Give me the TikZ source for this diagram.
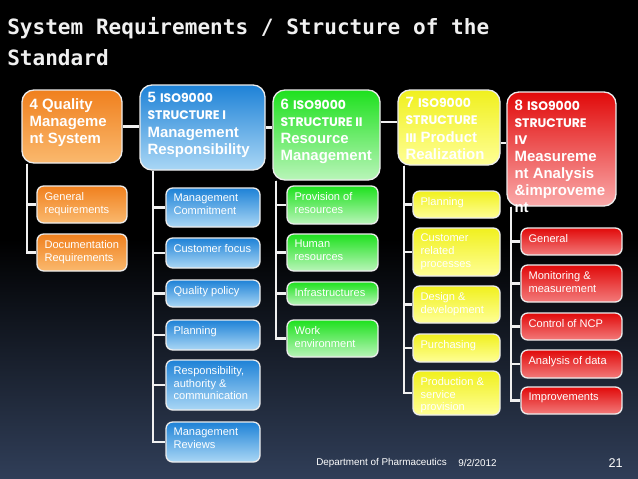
\documentclass[tikz,border=0pt]{standalone}
\usepackage{fontspec}
\setmainfont{Liberation Sans}
\newfontfamily\titlefont{DejaVu Sans Mono}
\newfontfamily\isofont{Poppins}
\definecolor{bgbot}{RGB}{48,62,88}
\definecolor{oT}{RGB}{240,128,30}\definecolor{oB}{RGB}{250,185,110}
\definecolor{bT}{RGB}{30,130,215}\definecolor{bB}{RGB}{170,215,245}
\definecolor{gT}{RGB}{30,225,30}\definecolor{gB}{RGB}{185,245,185}
\definecolor{yT}{RGB}{240,240,30}\definecolor{yB}{RGB}{255,255,150}
\definecolor{rT}{RGB}{225,10,10}\definecolor{rB}{RGB}{250,170,170}
\tikzset{
 box/.style={draw=white!85!gray,line width=1pt,rounded corners=5pt,inner sep=0pt},
 hbox/.style={box,rounded corners=9pt},
 org/.style={top color=oT,bottom color=oB},
 blu/.style={top color=bT,bottom color=bB},
 grn/.style={top color=gT,bottom color=gB},
 yel/.style={top color=yT,bottom color=yB},
 red/.style={top color=rT,bottom color=rB!70!rT},
 redh/.style={top color=rT,bottom color=rB},
 txt/.style={text=white,align=left,inner sep=0pt,font=\fontsize{8.3pt}{9.6pt}\selectfont},
 htxt/.style={text=white,align=left,inner sep=0pt,font=\fontsize{11.2pt}{12.8pt}\selectfont\bfseries},
 conn/.style={draw=white!88!gray,line width=1.6pt},
}
\newcommand\mybox[8]{%
 \node[#2,#8,minimum width={(#5-#3)*0.75pt},minimum height={(#6-#4)*0.75pt}] (#1) at ({(#3+#5)/2},{(#4+#6)/2}) {};
 \node[txt,anchor=north west] (#1t) at ([xshift=6pt,yshift=-5pt]#1.north west) {#7};}
\newcommand\myhead[8]{%
 \node[hbox,#8,minimum width={(#5-#3)*0.75pt},minimum height={(#6-#4)*0.75pt}] (#1) at ({(#3+#5)/2},{(#4+#6)/2}) {};
 \node[htxt,anchor=north west] (#1t) at ([xshift=6pt,yshift=-#2pt]#1.north west) {#7};}
\newcommand\iso[1]{{\isofont\bfseries\fontsize{9.3pt}{12.8pt}\selectfont #1}}
\begin{document}
\begin{tikzpicture}[x=0.75pt,y=-0.75pt]
\fill[black] (0,0) rectangle (638,240);
\shade[top color=black,bottom color=bgbot] (0,239) rectangle (638,478);
\useasboundingbox (0,0) rectangle (638,478);
\node[anchor=west,text=white!88!gray,font=\titlefont\bfseries\fontsize{15.8pt}{18pt}\selectfont,align=left,inner sep=0pt] (title) at (7,28) {System Requirements / Structure of the};
\node[anchor=west,text=white!88!gray,font=\titlefont\bfseries\fontsize{15.8pt}{18pt}\selectfont,align=left,inner sep=0pt] (title2) at (7,58) {Standard};
% headers
\myhead{h4}{7}{22}{90}{122}{163}{4 Quality\\Manageme\\nt System}{org}
\myhead{h5}{6}{140}{85}{265}{170}{5 \iso{ISO9000}\\\iso{STRUCTURE I}\\Management\\Responsibility}{blu}
\myhead{h6}{7}{273}{90}{380}{180}{6 \iso{ISO9000}\\\iso{STRUCTURE II}\\Resource\\Management}{grn}
\myhead{h7}{6}{398}{90}{500}{165}{7 \iso{ISO9000}\\\iso{STRUCTURE}\\\iso{III} Product\\Realization}{yel}
\myhead{h8}{6}{507}{92}{616}{206}{8 \iso{ISO9000}\\\iso{STRUCTURE}\\\iso{IV}\\Measureme\\nt Analysis\\\&improveme\\nt}{redh}
% children
\mybox{a1}{box}{37}{186}{127}{223}{General\\requirements}{org}
\mybox{a2}{box}{37}{234}{127}{271}{Documentation\\Requirements}{org}
\mybox{b1}{box}{166}{188}{260}{227}{Management\\Commitment}{blu}
\mybox{b2}{box}{166}{238}{260}{268}{Customer focus}{blu}
\mybox{b3}{box}{166}{280}{260}{307}{Quality policy}{blu}
\mybox{b4}{box}{166}{320}{260}{350}{Planning}{blu}
\mybox{b5}{box}{166}{360}{260}{410}{Responsibility,\\authority \&\\communication}{blu}
\mybox{b6}{box}{166}{422}{260}{462}{Management\\Reviews}{blu}
\mybox{c1}{box}{287}{186}{378}{224}{Provision of\\resources}{grn}
\mybox{c2}{box}{287}{234}{378}{271}{Human\\resources}{grn}
\mybox{c3}{box}{287}{282}{378}{305}{Infrastructures}{grn}
\mybox{c4}{box}{287}{320}{378}{357}{Work\\environment}{grn}
\mybox{d1}{box}{413}{191}{500}{218}{Planning}{yel}
\mybox{d2}{box}{413}{228}{500}{276}{Customer\\related\\processes}{yel}
\mybox{d3}{box}{413}{286}{500}{323}{Design \&\\development}{yel}
\mybox{d4}{box}{413}{334}{500}{362}{Purchasing}{yel}
\mybox{d5}{box}{413}{371}{500}{415}{Production \&\\service\\provision}{yel}
\mybox{e1}{box}{521}{228}{622}{255}{General}{red}
\mybox{e2}{box}{521}{265}{622}{302}{Monitoring \&\\measurement}{red}
\mybox{e3}{box}{521}{313}{622}{340}{Control of NCP}{red}
\mybox{e4}{box}{521}{350}{622}{378}{Analysis of data}{red}
\mybox{e5}{box}{521}{387}{622}{414}{Improvements}{red}
% header links
\draw[conn] (h4.east) -- (h4.east -| h5.west);
\draw[conn] (h5.east) -- (h5.east -| h6.west);
\path (h7.west |- h7.north) ++(0,33) coordinate (l7);
\draw[conn] (l7 -| h6.east) -- (l7);
\path (h8.west) ++(0,-6) coordinate (l8);
\draw[conn] (l8 -| h7.east) -- (l8);
% trees
\foreach \c in {a1,a2}{\draw[conn] ([xshift=4.5pt]h4.south west) |- (\c.west);}
\foreach \c in {b1,b2,b3,b4,b5,b6}{\draw[conn] ([xshift=10.5pt]h5.south west) |- (\c.west);}
\foreach \c in {c1,c2,c3,c4}{\draw[conn] ([xshift=3pt]h6.south west) |- (\c.west);}
\foreach \c in {d1,d2,d3,d4,d5}{\draw[conn] ([xshift=5pt]h7.south west) |- (\c.west);}
\foreach \c in {e1,e2,e3,e4,e5}{\draw[conn] ([xshift=3.5pt]h8.south west) |- (\c.west);}
% footer
\node[text=white,font=\fontsize{7.4pt}{9pt}\selectfont,anchor=west,inner sep=0pt] (f1) at (316,463) {Department of Pharmaceutics};
\node[text=white,font=\fontsize{7.4pt}{9pt}\selectfont,anchor=west,inner sep=0pt] (f2) at (458,463) {9/2/2012};
\node[text=white,font=\fontsize{9.5pt}{10pt}\selectfont,anchor=east,inner sep=0pt] (f3) at (623,463) {21};
\end{tikzpicture}
\end{document}
